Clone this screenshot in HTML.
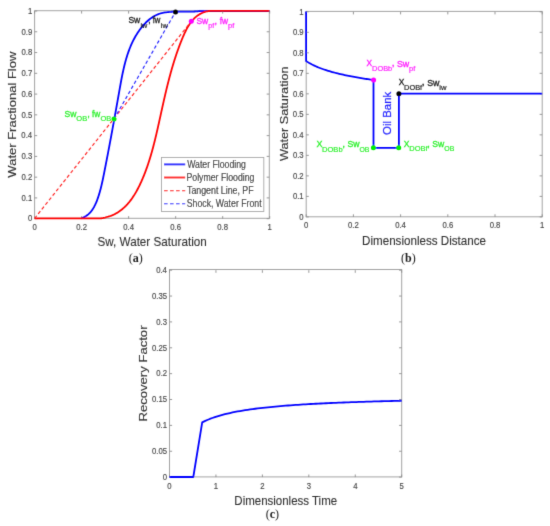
<!DOCTYPE html>
<html><head><meta charset="utf-8"><title>Figure</title><style>
html,body{margin:0;padding:0;background:#fff;width:550px;height:526px;overflow:hidden}
svg{display:block}
text{font-family:"Liberation Sans",Arial,sans-serif}
</style></head><body>
<svg width="550" height="526" viewBox="0 0 550 526">
<defs><filter id="bl" x="0" y="0" width="100%" height="100%" filterUnits="userSpaceOnUse"><feConvolveMatrix order="3" kernelMatrix="0.01134 0.08382 0.01134 0.08382 0.61935 0.08382 0.01134 0.08382 0.01134" edgeMode="duplicate" preserveAlpha="false"/></filter></defs>
<rect width="550" height="526" fill="#fff"/>
<g filter="url(#bl)">
<rect x="34.6" y="10.7" width="234.7" height="207.6" fill="none" stroke="#a3a3a3" stroke-width="1"/>
<path d="M34.6 218.7v-2.6M34.6 11v2.6M81.62 218.7v-2.6M81.62 11v2.6M128.64 218.7v-2.6M128.64 11v2.6M175.66 218.7v-2.6M175.66 11v2.6M222.68 218.7v-2.6M222.68 11v2.6M269.7 218.7v-2.6M269.7 11v2.6M34.6 218.7h2.6M269.3 218.7h-2.6M34.6 197.93h2.6M269.3 197.93h-2.6M34.6 177.16h2.6M269.3 177.16h-2.6M34.6 156.39h2.6M269.3 156.39h-2.6M34.6 135.62h2.6M269.3 135.62h-2.6M34.6 114.85h2.6M269.3 114.85h-2.6M34.6 94.08h2.6M269.3 94.08h-2.6M34.6 73.31h2.6M269.3 73.31h-2.6M34.6 52.54h2.6M269.3 52.54h-2.6M34.6 31.77h2.6M269.3 31.77h-2.6M34.6 11h2.6M269.3 11h-2.6" stroke="#8c8c8c" stroke-width="0.9" fill="none"/>
<g fill="#484848" stroke="#484848" stroke-width="0.16" font-size="8.6">
<text x="32.45" y="229.84" textLength="4.3" lengthAdjust="spacingAndGlyphs">0</text>
<text x="76.28" y="229.84" textLength="10.76" lengthAdjust="spacingAndGlyphs">0.2</text>
<text x="123.22" y="229.84" textLength="10.76" lengthAdjust="spacingAndGlyphs">0.4</text>
<text x="170.3" y="229.84" textLength="10.76" lengthAdjust="spacingAndGlyphs">0.6</text>
<text x="217.32" y="229.84" textLength="10.76" lengthAdjust="spacingAndGlyphs">0.8</text>
<text x="267.44" y="229.84" textLength="4.3" lengthAdjust="spacingAndGlyphs">1</text>
<text x="27.9" y="221.44" textLength="4.3" lengthAdjust="spacingAndGlyphs">0</text>
<text x="21.52" y="200.67" textLength="10.76" lengthAdjust="spacingAndGlyphs">0.1</text>
<text x="21.53" y="179.9" textLength="10.76" lengthAdjust="spacingAndGlyphs">0.2</text>
<text x="21.48" y="159.13" textLength="10.76" lengthAdjust="spacingAndGlyphs">0.3</text>
<text x="21.37" y="138.36" textLength="10.76" lengthAdjust="spacingAndGlyphs">0.4</text>
<text x="21.47" y="117.59" textLength="10.76" lengthAdjust="spacingAndGlyphs">0.5</text>
<text x="21.48" y="96.82" textLength="10.76" lengthAdjust="spacingAndGlyphs">0.6</text>
<text x="21.53" y="76.05" textLength="10.76" lengthAdjust="spacingAndGlyphs">0.7</text>
<text x="21.48" y="55.28" textLength="10.76" lengthAdjust="spacingAndGlyphs">0.8</text>
<text x="21.51" y="34.51" textLength="10.76" lengthAdjust="spacingAndGlyphs">0.9</text>
<text x="27.97" y="13.74" textLength="4.3" lengthAdjust="spacingAndGlyphs">1</text>
</g>
<path d="M81.41 218.28 L82.53 217.87 L83.59 217.41 L84.61 216.89 L85.58 216.33 L86.51 215.73 L87.39 215.08 L88.23 214.39 L89.03 213.67 L89.8 212.9 L90.52 212.1 L91.21 211.27 L91.87 210.4 L92.5 209.51 L93.09 208.59 L93.66 207.65 L94.2 206.69 L94.71 205.7 L95.2 204.7 L95.67 203.68 L96.12 202.65 L96.55 201.6 L96.96 200.55 L97.36 199.49 L97.74 198.42 L98.11 197.35 L98.47 196.28 L98.81 195.2 L99.15 194.12 L99.47 193.03 L99.79 191.94 L100.09 190.85 L100.39 189.76 L100.68 188.67 L100.96 187.57 L101.23 186.47 L101.49 185.37 L101.75 184.26 L102 183.16 L102.25 182.06 L102.49 180.95 L102.73 179.84 L102.96 178.73 L103.19 177.63 L103.41 176.52 L103.64 175.41 L103.86 174.3 L104.08 173.2 L104.3 172.09 L104.52 170.98 L104.74 169.88 L104.95 168.78 L105.17 167.67 L105.39 166.57 L105.6 165.47 L105.82 164.37 L106.03 163.27 L106.24 162.17 L106.46 161.07 L106.67 159.97 L106.88 158.87 L107.09 157.77 L107.3 156.67 L107.52 155.58 L107.73 154.48 L107.94 153.38 L108.14 152.29 L108.35 151.19 L108.56 150.1 L108.77 149 L108.98 147.91 L109.18 146.81 L109.39 145.72 L109.6 144.62 L109.8 143.53 L110.01 142.43 L110.21 141.34 L110.41 140.25 L110.62 139.15 L110.82 138.06 L111.03 136.97 L111.23 135.87 L111.43 134.78 L111.63 133.69 L111.84 132.59 L112.04 131.5 L112.24 130.4 L112.44 129.31 L112.64 128.21 L112.84 127.12 L113.04 126.02 L113.24 124.93 L113.44 123.83 L113.64 122.74 L113.84 121.64 L114.04 120.54 L114.24 119.45 L114.44 118.35 L114.64 117.25 L114.83 116.15 L115.03 115.05 L115.23 113.95 L115.43 112.85 L115.63 111.75 L115.82 110.65 L116.02 109.55 L116.22 108.45 L116.42 107.34 L116.61 106.24 L116.81 105.14 L117.01 104.03 L117.21 102.92 L117.4 101.82 L117.6 100.71 L117.8 99.6 L117.99 98.49 L118.19 97.38 L118.39 96.27 L118.58 95.15 L118.78 94.04 L118.98 92.93 L119.18 91.81 L119.37 90.69 L119.57 89.58 L119.77 88.46 L119.97 87.34 L120.17 86.22 L120.37 85.1 L120.57 83.98 L120.77 82.86 L120.98 81.74 L121.19 80.62 L121.4 79.5 L121.61 78.38 L121.83 77.26 L122.05 76.15 L122.28 75.03 L122.51 73.92 L122.74 72.8 L122.98 71.69 L123.22 70.58 L123.47 69.48 L123.72 68.37 L123.98 67.27 L124.24 66.17 L124.51 65.07 L124.79 63.98 L125.07 62.88 L125.36 61.8 L125.66 60.71 L125.96 59.63 L126.28 58.55 L126.6 57.48 L126.93 56.4 L127.26 55.34 L127.61 54.28 L127.97 53.22 L128.33 52.16 L128.7 51.12 L129.09 50.07 L129.48 49.03 L129.89 48 L130.3 46.97 L130.73 45.95 L131.16 44.94 L131.61 43.92 L132.07 42.92 L132.55 41.92 L133.03 40.93 L133.53 39.95 L134.04 38.97 L134.56 38 L135.1 37.03 L135.65 36.07 L136.21 35.12 L136.79 34.18 L137.38 33.25 L137.99 32.32 L138.61 31.4 L139.25 30.49 L139.9 29.59 L140.57 28.7 L141.25 27.81 L141.95 26.94 L142.67 26.07 L143.4 25.22 L144.15 24.39 L144.92 23.57 L145.7 22.76 L146.5 21.98 L147.31 21.22 L148.15 20.47 L149 19.75 L149.86 19.06 L150.75 18.39 L151.65 17.75 L152.56 17.13 L153.5 16.55 L154.45 16 L155.42 15.48 L156.41 15 L157.41 14.55 L158.43 14.14 L159.47 13.76 L160.53 13.43 L161.61 13.13 L162.69 12.87 L163.8 12.64 L164.91 12.44 L166.04 12.27 L167.17 12.13 L168.31 12.01 L169.46 11.91 L170.62 11.83 L171.78 11.76 L172.94 11.72 L174.11 11.68 L175.27 11.66 L176.44 11.64 L177.6 11.64 L178.76 11.63 L179.92 11.64 L181.08 11.64 L182.23 11.65 L183.38 11.66 L184.52 11.67 L185.67 11.68 L186.8 11.68 L187.93 11.68 L189.06 11.67 L190.18 11.66 L191.3 11.64 L192.41 11.61 L193.51 11.57 L194.6 11.52 L195.69 11.46 L196.77 11.38 L197.84 11.29 L198.9 11.17 L199.95 11.05 L269.3 11" fill="none" stroke="#0000ff" stroke-width="1.8" stroke-linejoin="round"/>
<path d="M34.6 218.4 L92 218.4 L92.98 218.4 L93.95 218.4 L94.92 218.4 L95.88 218.4 L96.83 218.4 L97.77 218.4 L98.7 218.4 L99.62 218.4 L100.54 218.35 L101.44 218.25 L102.34 218.12 L103.23 217.98 L104.11 217.82 L104.98 217.64 L105.84 217.44 L106.7 217.22 L107.54 216.99 L108.38 216.73 L109.2 216.46 L110.02 216.18 L110.83 215.88 L111.62 215.56 L112.41 215.22 L113.19 214.87 L113.96 214.51 L114.72 214.12 L115.47 213.73 L116.21 213.32 L116.95 212.89 L117.67 212.45 L118.38 211.99 L119.08 211.53 L119.77 211.04 L120.45 210.55 L121.13 210.04 L121.79 209.52 L122.44 208.99 L123.08 208.44 L123.71 207.88 L124.33 207.31 L124.95 206.73 L125.55 206.14 L126.15 205.54 L126.73 204.92 L127.31 204.3 L127.87 203.67 L128.43 203.02 L128.98 202.37 L129.53 201.71 L130.06 201.03 L130.58 200.35 L131.1 199.66 L131.61 198.97 L132.11 198.26 L132.61 197.55 L133.09 196.83 L133.57 196.1 L134.04 195.37 L134.51 194.63 L134.97 193.88 L135.42 193.13 L135.86 192.37 L136.3 191.6 L136.73 190.83 L137.16 190.06 L137.58 189.28 L137.99 188.49 L138.4 187.7 L138.8 186.91 L139.19 186.12 L139.58 185.32 L139.97 184.51 L140.35 183.71 L140.72 182.9 L141.09 182.09 L141.46 181.28 L141.82 180.46 L142.17 179.65 L142.52 178.83 L142.87 178.01 L143.21 177.19 L143.55 176.37 L143.88 175.55 L144.21 174.72 L144.54 173.9 L144.86 173.08 L145.18 172.25 L145.49 171.42 L145.8 170.59 L146.1 169.76 L146.41 168.93 L146.71 168.1 L147 167.27 L147.29 166.44 L147.58 165.6 L147.86 164.77 L148.15 163.93 L148.42 163.09 L148.7 162.26 L148.97 161.42 L149.24 160.58 L149.5 159.74 L149.77 158.9 L150.02 158.05 L150.28 157.21 L150.53 156.37 L150.79 155.52 L151.03 154.68 L151.28 153.83 L151.52 152.99 L151.76 152.14 L152 151.29 L152.24 150.44 L152.47 149.6 L152.7 148.75 L152.93 147.9 L153.16 147.05 L153.38 146.2 L153.6 145.34 L153.82 144.49 L154.04 143.64 L154.26 142.79 L154.47 141.93 L154.69 141.08 L154.9 140.22 L155.11 139.37 L155.32 138.52 L155.52 137.66 L155.73 136.8 L155.93 135.95 L156.13 135.09 L156.34 134.24 L156.54 133.38 L156.73 132.52 L156.93 131.66 L157.13 130.81 L157.33 129.95 L157.52 129.09 L157.71 128.23 L157.91 127.38 L158.1 126.52 L158.29 125.66 L158.48 124.8 L158.67 123.94 L158.87 123.08 L159.06 122.22 L159.24 121.37 L159.43 120.51 L159.62 119.65 L159.81 118.79 L160 117.93 L160.19 117.07 L160.38 116.21 L160.57 115.35 L160.75 114.5 L160.94 113.64 L161.13 112.78 L161.32 111.92 L161.51 111.06 L161.7 110.2 L161.89 109.35 L162.08 108.49 L162.27 107.63 L162.46 106.77 L162.65 105.92 L162.84 105.06 L163.03 104.2 L163.22 103.34 L163.41 102.49 L163.61 101.63 L163.8 100.77 L163.99 99.92 L164.19 99.06 L164.38 98.2 L164.58 97.35 L164.78 96.49 L164.98 95.63 L165.17 94.78 L165.37 93.92 L165.58 93.07 L165.78 92.21 L165.98 91.36 L166.18 90.5 L166.39 89.65 L166.59 88.79 L166.8 87.94 L167.01 87.08 L167.22 86.23 L167.43 85.38 L167.64 84.52 L167.86 83.67 L168.07 82.82 L168.29 81.96 L168.51 81.11 L168.73 80.26 L168.95 79.41 L169.17 78.55 L169.39 77.7 L169.62 76.85 L169.85 76 L170.08 75.15 L170.31 74.3 L170.54 73.45 L170.77 72.6 L171.01 71.75 L171.25 70.9 L171.49 70.05 L171.73 69.2 L171.98 68.35 L172.22 67.51 L172.47 66.66 L172.72 65.81 L172.98 64.96 L173.23 64.12 L173.49 63.27 L173.75 62.42 L174.01 61.58 L174.28 60.73 L174.54 59.89 L174.81 59.04 L175.09 58.2 L175.36 57.36 L175.64 56.51 L175.92 55.67 L176.2 54.83 L176.48 53.98 L176.77 53.14 L177.06 52.3 L177.36 51.46 L177.65 50.62 L177.95 49.78 L178.25 48.94 L178.56 48.1 L178.87 47.26 L179.18 46.42 L179.49 45.58 L179.81 44.75 L180.13 43.91 L180.45 43.07 L180.78 42.24 L181.11 41.4 L181.44 40.57 L181.78 39.73 L182.12 38.9 L182.46 38.07 L182.81 37.24 L183.16 36.41 L183.52 35.58 L183.89 34.76 L184.25 33.95 L184.63 33.14 L185.01 32.33 L185.4 31.53 L185.79 30.74 L186.19 29.95 L186.6 29.17 L187.02 28.4 L187.45 27.64 L187.88 26.89 L188.32 26.15 L188.77 25.42 L189.24 24.7 L189.71 23.99 L190.19 23.29 L190.68 22.61 L191.18 21.94 L191.7 21.28 L192.22 20.64 L192.76 20.01 L193.31 19.4 L193.87 18.8 L194.45 18.22 L195.04 17.66 L195.64 17.11 L196.25 16.59 L196.88 16.08 L197.52 15.59 L198.18 15.13 L198.86 14.68 L199.55 14.25 L200.25 13.85 L200.97 13.46 L201.71 13.1 L202.46 12.77 L203.23 12.46 L204.02 12.17 L204.83 11.9 L205.65 11.67 L206.49 11.45 L207.36 11.27 L208.24 11.11 L209.14 10.98 L210.05 10.9 L210.99 10.9 L211.95 10.9 L212.93 10.9 L213.93 10.9 L214.96 10.9 L216 10.9 L269.3 10.9" fill="none" stroke="#ff0000" stroke-width="1.8" stroke-linejoin="round"/>
<path d="M34.6 218.4L191.3 21.3" stroke="#ff1a1a" stroke-width="1.1" stroke-dasharray="3.4 2.4" fill="none"/>
<path d="M114 119L175.5 11.9" stroke="#1a1aff" stroke-width="1.1" stroke-dasharray="3.4 2.4" fill="none"/>
<circle cx="175.5" cy="11.9" r="2.5" fill="#000"/>
<circle cx="191.3" cy="21.3" r="2.5" fill="#ff00ff"/>
<circle cx="114" cy="119" r="2.5" fill="#00ee00"/>
<text x="128.41" y="23.2" font-size="9.6" fill="#1a1a1a" stroke="#1a1a1a" stroke-width="0.32" textLength="11.87" lengthAdjust="spacingAndGlyphs">Sw</text>
<text x="140.41" y="27.7" font-size="7.5" fill="#1a1a1a" stroke="#1a1a1a" stroke-width="0.18" textLength="6.87" lengthAdjust="spacingAndGlyphs">iw</text>
<text x="148.27" y="23.2" font-size="9.6" fill="#1a1a1a" stroke="#1a1a1a" stroke-width="0.32" textLength="2.26" lengthAdjust="spacingAndGlyphs">,</text>
<text x="152.69" y="23.2" font-size="9.6" fill="#1a1a1a" stroke="#1a1a1a" stroke-width="0.32" textLength="7.69" lengthAdjust="spacingAndGlyphs">fw</text>
<text x="160.81" y="28" font-size="7.5" fill="#1a1a1a" stroke="#1a1a1a" stroke-width="0.18" textLength="6.87" lengthAdjust="spacingAndGlyphs">iw</text>
<text x="196.42" y="24.1" font-size="9.6" fill="#ff1aff" stroke="#ff1aff" stroke-width="0.32" textLength="11.76" lengthAdjust="spacingAndGlyphs">Sw</text>
<text x="208.34" y="27.8" font-size="7.5" fill="#ff1aff" stroke="#ff1aff" stroke-width="0.18" textLength="5.95" lengthAdjust="spacingAndGlyphs">pf</text>
<text x="214.38" y="24.1" font-size="9.6" fill="#ff1aff" stroke="#ff1aff" stroke-width="0.32" textLength="2.55" lengthAdjust="spacingAndGlyphs">,</text>
<text x="219.68" y="24.1" font-size="9.6" fill="#ff1aff" stroke="#ff1aff" stroke-width="0.32" textLength="8.3" lengthAdjust="spacingAndGlyphs">fw</text>
<text x="228.01" y="27.8" font-size="7.5" fill="#ff1aff" stroke="#ff1aff" stroke-width="0.18" textLength="6.38" lengthAdjust="spacingAndGlyphs">pf</text>
<text x="64.61" y="116.9" font-size="9.6" fill="#2ef02e" stroke="#2ef02e" stroke-width="0.32" textLength="11.87" lengthAdjust="spacingAndGlyphs">Sw</text>
<text x="76.34" y="121.3" font-size="7.5" fill="#2ef02e" stroke="#2ef02e" stroke-width="0.18" textLength="10.85" lengthAdjust="spacingAndGlyphs">OB</text>
<text x="87.47" y="116.9" font-size="9.6" fill="#2ef02e" stroke="#2ef02e" stroke-width="0.32" textLength="2.26" lengthAdjust="spacingAndGlyphs">,</text>
<text x="91.98" y="116.9" font-size="9.6" fill="#2ef02e" stroke="#2ef02e" stroke-width="0.32" textLength="8.3" lengthAdjust="spacingAndGlyphs">fw</text>
<text x="100.44" y="121.3" font-size="7.5" fill="#2ef02e" stroke="#2ef02e" stroke-width="0.18" textLength="10.85" lengthAdjust="spacingAndGlyphs">OB</text>
<rect x="161.5" y="157.45" width="102.3" height="54" fill="#fff" stroke="#a3a3a3" stroke-width="0.9"/>
<path d="M164 164.4H185.2" stroke="#0000ff" stroke-width="1.8"/>
<text x="187.16" y="167.9" font-size="10.7" fill="#262626" stroke="#262626" stroke-width="0.13" textLength="58.7" lengthAdjust="spacingAndGlyphs">Water Flooding</text>
<path d="M164 177.5H185.2" stroke="#ff0000" stroke-width="1.8"/>
<text x="186.48" y="180.8" font-size="10.7" fill="#262626" stroke="#262626" stroke-width="0.13" textLength="67.98" lengthAdjust="spacingAndGlyphs">Polymer Flooding</text>
<path d="M164 190.6H185.2" stroke="#ff1a1a" stroke-width="1.1" stroke-dasharray="3.6 2.4"/>
<text x="187" y="194.1" font-size="10.7" fill="#262626" stroke="#262626" stroke-width="0.13" textLength="66.64" lengthAdjust="spacingAndGlyphs">Tangent Line, PF</text>
<path d="M164 203.7H185.2" stroke="#1a1aff" stroke-width="1.1" stroke-dasharray="3.6 2.4"/>
<text x="186.81" y="207.3" font-size="10.7" fill="#262626" stroke="#262626" stroke-width="0.13" textLength="74.76" lengthAdjust="spacingAndGlyphs">Shock, Water Front</text>
<text x="97.47" y="245.9" font-size="12.6" fill="#333" stroke="#333" stroke-width="0.12" textLength="109.28" lengthAdjust="spacingAndGlyphs">Sw, Water Saturation</text>
<text transform="translate(16.1 0) rotate(-90)" x="-177.66" y="0" font-size="11" fill="#333" stroke="#333" stroke-width="0.14" textLength="126.03" lengthAdjust="spacingAndGlyphs">Water Fractional Flow</text>
<text x="128.75" y="261.5" font-size="12" fill="#1a1a1a" style="font-family:'Liberation Serif',serif">(<tspan style="font-weight:bold">a</tspan>)</text>
<rect x="306.2" y="11.4" width="236" height="205.4" fill="none" stroke="#a3a3a3" stroke-width="1"/>
<path d="M306.2 216.9v-2.6M306.2 11.8v2.6M353.4 216.9v-2.6M353.4 11.8v2.6M400.6 216.9v-2.6M400.6 11.8v2.6M447.8 216.9v-2.6M447.8 11.8v2.6M495 216.9v-2.6M495 11.8v2.6M542.2 216.9v-2.6M542.2 11.8v2.6M306.2 216.9h2.6M542.2 216.9h-2.6M306.2 196.39h2.6M542.2 196.39h-2.6M306.2 175.88h2.6M542.2 175.88h-2.6M306.2 155.37h2.6M542.2 155.37h-2.6M306.2 134.86h2.6M542.2 134.86h-2.6M306.2 114.35h2.6M542.2 114.35h-2.6M306.2 93.84h2.6M542.2 93.84h-2.6M306.2 73.33h2.6M542.2 73.33h-2.6M306.2 52.82h2.6M542.2 52.82h-2.6M306.2 32.31h2.6M542.2 32.31h-2.6M306.2 11.8h2.6M542.2 11.8h-2.6" stroke="#8c8c8c" stroke-width="0.9" fill="none"/>
<g fill="#484848" stroke="#484848" stroke-width="0.16" font-size="8.6">
<text x="304.05" y="228.34" textLength="4.3" lengthAdjust="spacingAndGlyphs">0</text>
<text x="348.06" y="228.34" textLength="10.76" lengthAdjust="spacingAndGlyphs">0.2</text>
<text x="395.18" y="228.34" textLength="10.76" lengthAdjust="spacingAndGlyphs">0.4</text>
<text x="442.44" y="228.34" textLength="10.76" lengthAdjust="spacingAndGlyphs">0.6</text>
<text x="489.64" y="228.34" textLength="10.76" lengthAdjust="spacingAndGlyphs">0.8</text>
<text x="539.94" y="228.34" textLength="4.3" lengthAdjust="spacingAndGlyphs">1</text>
<text x="299.3" y="219.64" textLength="4.3" lengthAdjust="spacingAndGlyphs">0</text>
<text x="292.92" y="199.13" textLength="10.76" lengthAdjust="spacingAndGlyphs">0.1</text>
<text x="292.93" y="178.62" textLength="10.76" lengthAdjust="spacingAndGlyphs">0.2</text>
<text x="292.88" y="158.11" textLength="10.76" lengthAdjust="spacingAndGlyphs">0.3</text>
<text x="292.77" y="137.6" textLength="10.76" lengthAdjust="spacingAndGlyphs">0.4</text>
<text x="292.87" y="117.09" textLength="10.76" lengthAdjust="spacingAndGlyphs">0.5</text>
<text x="292.88" y="96.58" textLength="10.76" lengthAdjust="spacingAndGlyphs">0.6</text>
<text x="292.93" y="76.07" textLength="10.76" lengthAdjust="spacingAndGlyphs">0.7</text>
<text x="292.88" y="55.56" textLength="10.76" lengthAdjust="spacingAndGlyphs">0.8</text>
<text x="292.91" y="35.05" textLength="10.76" lengthAdjust="spacingAndGlyphs">0.9</text>
<text x="299.37" y="14.54" textLength="4.3" lengthAdjust="spacingAndGlyphs">1</text>
</g>
<path d="M306.1 11.6 L306.1 60.99 L307.48 61.91 L308.85 62.76 L310.23 63.55 L311.6 64.3 L312.98 65 L314.35 65.66 L315.73 66.29 L317.1 66.89 L318.48 67.46 L319.86 68 L321.23 68.52 L322.61 69.01 L323.98 69.49 L325.36 69.95 L326.73 70.39 L328.11 70.82 L329.48 71.23 L330.86 71.63 L332.23 72.01 L333.61 72.39 L334.99 72.75 L336.36 73.1 L337.74 73.44 L339.11 73.77 L340.49 74.09 L341.86 74.41 L343.24 74.71 L344.61 75.01 L345.99 75.3 L347.37 75.59 L348.74 75.87 L350.12 76.14 L351.49 76.4 L352.87 76.66 L354.24 76.92 L355.62 77.17 L356.99 77.41 L358.37 77.65 L359.74 77.88 L361.12 78.11 L362.5 78.34 L363.87 78.56 L365.25 78.78 L366.62 78.99 L368 79.2 L369.37 79.4 L370.75 79.61 L372.12 79.81 L373.5 80 L373.5 147.8 L398.9 147.8 L398.9 93.7 L542.2 93.7" fill="none" stroke="#0000ff" stroke-width="1.8" stroke-linejoin="miter"/>
<circle cx="373.6" cy="80" r="2.5" fill="#ff00ff"/>
<circle cx="398.9" cy="93.7" r="2.5" fill="#000"/>
<circle cx="373.4" cy="147.8" r="2.5" fill="#00ee00"/>
<circle cx="398.7" cy="147.8" r="2.5" fill="#00ee00"/>
<text x="366.41" y="66.3" font-size="9.5" fill="#ff1aff" stroke="#ff1aff" stroke-width="0.32" textLength="5.56" lengthAdjust="spacingAndGlyphs">X</text>
<text x="372.09" y="71.2" font-size="7.2" fill="#ff1aff" stroke="#ff1aff" stroke-width="0.18" textLength="20.12" lengthAdjust="spacingAndGlyphs">DOBb</text>
<text x="391.88" y="66.3" font-size="9.5" fill="#ff1aff" stroke="#ff1aff" stroke-width="0.32" textLength="2.83" lengthAdjust="spacingAndGlyphs">,</text>
<text x="396.9" y="66.7" font-size="9.5" fill="#ff1aff" stroke="#ff1aff" stroke-width="0.32" textLength="12.28" lengthAdjust="spacingAndGlyphs">Sw</text>
<text x="409.02" y="71.1" font-size="7.2" fill="#ff1aff" stroke="#ff1aff" stroke-width="0.18" textLength="6.27" lengthAdjust="spacingAndGlyphs">pf</text>
<text x="398.71" y="85.4" font-size="9.5" fill="#1a1a1a" stroke="#1a1a1a" stroke-width="0.32" textLength="5.56" lengthAdjust="spacingAndGlyphs">X</text>
<text x="404.09" y="90" font-size="7.2" fill="#1a1a1a" stroke="#1a1a1a" stroke-width="0.18" textLength="18.1" lengthAdjust="spacingAndGlyphs">DOBf</text>
<text x="421.88" y="85.4" font-size="9.5" fill="#1a1a1a" stroke="#1a1a1a" stroke-width="0.32" textLength="2.83" lengthAdjust="spacingAndGlyphs">,</text>
<text x="427.2" y="85.7" font-size="9.5" fill="#1a1a1a" stroke="#1a1a1a" stroke-width="0.32" textLength="12.28" lengthAdjust="spacingAndGlyphs">Sw</text>
<text x="439.29" y="89.8" font-size="7.2" fill="#1a1a1a" stroke="#1a1a1a" stroke-width="0.18" textLength="7.19" lengthAdjust="spacingAndGlyphs">iw</text>
<text x="316.5" y="146.7" font-size="9.5" fill="#2ef02e" stroke="#2ef02e" stroke-width="0.32" textLength="5.99" lengthAdjust="spacingAndGlyphs">X</text>
<text x="321.98" y="151.6" font-size="7.2" fill="#2ef02e" stroke="#2ef02e" stroke-width="0.18" textLength="20.64" lengthAdjust="spacingAndGlyphs">DOBb</text>
<text x="342.28" y="146.7" font-size="9.5" fill="#2ef02e" stroke="#2ef02e" stroke-width="0.32" textLength="2.83" lengthAdjust="spacingAndGlyphs">,</text>
<text x="347.41" y="146.9" font-size="9.5" fill="#2ef02e" stroke="#2ef02e" stroke-width="0.32" textLength="12.07" lengthAdjust="spacingAndGlyphs">Sw</text>
<text x="359.47" y="151.5" font-size="7.2" fill="#2ef02e" stroke="#2ef02e" stroke-width="0.18" textLength="9.99" lengthAdjust="spacingAndGlyphs">OB</text>
<text x="403.81" y="146.6" font-size="9.5" fill="#2ef02e" stroke="#2ef02e" stroke-width="0.32" textLength="5.67" lengthAdjust="spacingAndGlyphs">X</text>
<text x="409.29" y="151.2" font-size="7.2" fill="#2ef02e" stroke="#2ef02e" stroke-width="0.18" textLength="18.3" lengthAdjust="spacingAndGlyphs">DOBf</text>
<text x="427.18" y="146.6" font-size="9.5" fill="#2ef02e" stroke="#2ef02e" stroke-width="0.32" textLength="2.55" lengthAdjust="spacingAndGlyphs">,</text>
<text x="432.31" y="146.6" font-size="9.5" fill="#2ef02e" stroke="#2ef02e" stroke-width="0.32" textLength="11.97" lengthAdjust="spacingAndGlyphs">Sw</text>
<text x="444.27" y="151.2" font-size="7.2" fill="#2ef02e" stroke="#2ef02e" stroke-width="0.18" textLength="9.99" lengthAdjust="spacingAndGlyphs">OB</text>
<text transform="translate(391.3 0) rotate(-90)" x="-134.94" y="0" font-size="11" fill="#1818ff" stroke="#1818ff" stroke-width="0.2" textLength="43.22" lengthAdjust="spacingAndGlyphs">Oil Bank</text>
<text x="362.05" y="244.8" font-size="12.6" fill="#333" stroke="#333" stroke-width="0.12" textLength="123.97" lengthAdjust="spacingAndGlyphs">Dimensionless Distance</text>
<text transform="translate(287.9 0) rotate(-90)" x="-161.06" y="0" font-size="11" fill="#333" stroke="#333" stroke-width="0.14" textLength="94.67" lengthAdjust="spacingAndGlyphs">Water Saturation</text>
<text x="401.12" y="261.5" font-size="12" fill="#1a1a1a" style="font-family:'Liberation Serif',serif">(<tspan style="font-weight:bold">b</tspan>)</text>
<rect x="169.5" y="269.5" width="232.2" height="207.4" fill="none" stroke="#a3a3a3" stroke-width="1"/>
<path d="M169.5 477.1v-2.6M169.5 270.2v2.6M215.94 477.1v-2.6M215.94 270.2v2.6M262.38 477.1v-2.6M262.38 270.2v2.6M308.82 477.1v-2.6M308.82 270.2v2.6M355.26 477.1v-2.6M355.26 270.2v2.6M401.7 477.1v-2.6M401.7 270.2v2.6M169.5 477.1h2.6M401.7 477.1h-2.6M169.5 451.24h2.6M401.7 451.24h-2.6M169.5 425.38h2.6M401.7 425.38h-2.6M169.5 399.51h2.6M401.7 399.51h-2.6M169.5 373.65h2.6M401.7 373.65h-2.6M169.5 347.79h2.6M401.7 347.79h-2.6M169.5 321.92h2.6M401.7 321.92h-2.6M169.5 296.06h2.6M401.7 296.06h-2.6M169.5 270.2h2.6M401.7 270.2h-2.6" stroke="#8c8c8c" stroke-width="0.9" fill="none"/>
<g fill="#484848" stroke="#484848" stroke-width="0.16" font-size="8.6">
<text x="167.35" y="488.54" textLength="4.3" lengthAdjust="spacingAndGlyphs">0</text>
<text x="213.68" y="488.54" textLength="4.3" lengthAdjust="spacingAndGlyphs">1</text>
<text x="260.23" y="488.54" textLength="4.3" lengthAdjust="spacingAndGlyphs">2</text>
<text x="306.69" y="488.54" textLength="4.3" lengthAdjust="spacingAndGlyphs">3</text>
<text x="353.13" y="488.54" textLength="4.3" lengthAdjust="spacingAndGlyphs">4</text>
<text x="399.56" y="488.54" textLength="4.3" lengthAdjust="spacingAndGlyphs">5</text>
<text x="162.7" y="479.84" textLength="4.3" lengthAdjust="spacingAndGlyphs">0</text>
<text x="151.96" y="453.98" textLength="15.06" lengthAdjust="spacingAndGlyphs">0.05</text>
<text x="156.32" y="428.12" textLength="10.76" lengthAdjust="spacingAndGlyphs">0.1</text>
<text x="151.96" y="402.26" textLength="15.06" lengthAdjust="spacingAndGlyphs">0.15</text>
<text x="156.33" y="376.39" textLength="10.76" lengthAdjust="spacingAndGlyphs">0.2</text>
<text x="151.96" y="350.53" textLength="15.06" lengthAdjust="spacingAndGlyphs">0.25</text>
<text x="156.28" y="324.67" textLength="10.76" lengthAdjust="spacingAndGlyphs">0.3</text>
<text x="151.96" y="298.81" textLength="15.06" lengthAdjust="spacingAndGlyphs">0.35</text>
<text x="156.17" y="272.94" textLength="10.76" lengthAdjust="spacingAndGlyphs">0.4</text>
</g>
<path d="M169.5 477 L193.3 477 L202.2 422.32 L204.73 421.1 L207.25 419.98 L209.78 418.96 L212.3 418.01 L214.83 417.14 L217.35 416.33 L219.88 415.58 L222.4 414.88 L224.93 414.22 L227.45 413.61 L229.98 413.03 L232.5 412.49 L235.03 411.98 L237.55 411.49 L240.08 411.04 L242.61 410.61 L245.13 410.2 L247.66 409.81 L250.18 409.44 L252.71 409.09 L255.23 408.76 L257.76 408.44 L260.28 408.13 L262.81 407.84 L265.33 407.56 L267.86 407.3 L270.38 407.04 L272.91 406.79 L275.43 406.56 L277.96 406.33 L280.48 406.11 L283.01 405.9 L285.54 405.7 L288.06 405.51 L290.59 405.32 L293.11 405.14 L295.64 404.96 L298.16 404.79 L300.69 404.63 L303.21 404.47 L305.74 404.32 L308.26 404.17 L310.79 404.02 L313.31 403.88 L315.84 403.75 L318.36 403.62 L320.89 403.49 L323.42 403.36 L325.94 403.24 L328.47 403.13 L330.99 403.01 L333.52 402.9 L336.04 402.8 L338.57 402.69 L341.09 402.59 L343.62 402.49 L346.14 402.39 L348.67 402.3 L351.19 402.21 L353.72 402.12 L356.24 402.03 L358.77 401.94 L361.29 401.86 L363.82 401.78 L366.35 401.7 L368.87 401.62 L371.4 401.54 L373.92 401.47 L376.45 401.4 L378.97 401.32 L381.5 401.25 L384.02 401.19 L386.55 401.12 L389.07 401.05 L391.6 400.99 L394.12 400.93 L396.65 400.87 L399.17 400.81 L401.7 400.75" fill="none" stroke="#0000ff" stroke-width="1.8" stroke-linejoin="round"/>
<text x="234.36" y="504.8" font-size="12.6" fill="#333" stroke="#333" stroke-width="0.12" textLength="102.74" lengthAdjust="spacingAndGlyphs">Dimensionless Time</text>
<text transform="translate(147.4 0) rotate(-90)" x="-421.57" y="0" font-size="11.3" fill="#333" stroke="#333" stroke-width="0.14" textLength="96.09" lengthAdjust="spacingAndGlyphs">Recovery Factor</text>
<text x="265.69" y="518.4" font-size="12" fill="#1a1a1a" style="font-family:'Liberation Serif',serif">(<tspan style="font-weight:bold">c</tspan>)</text>
</g>
</svg>
</body></html>
